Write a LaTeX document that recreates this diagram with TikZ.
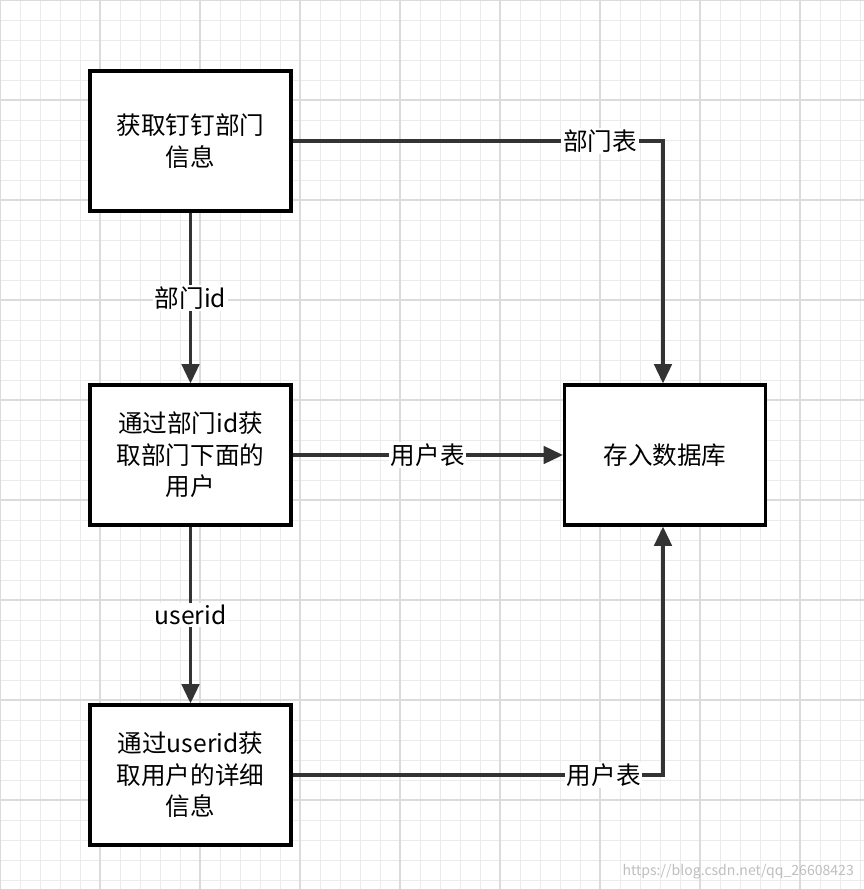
\documentclass[tikz,border=0pt]{standalone}
\usepackage{fontspec}
\setmainfont{Noto Sans CJK SC}
\usetikzlibrary{arrows.meta}
\definecolor{linec}{HTML}{333333}
\begin{document}
\begin{tikzpicture}[x=0.02cm,y=-0.02cm,
  box/.style={draw=black,line width=1.8pt,fill=white,minimum width=201*0.02cm,minimum height=140*0.02cm,align=center,font=\fontsize{14pt}{18pt}\selectfont},
  conn/.style={draw=linec,line width=1.8pt,-{Triangle[length=11pt,width=10pt]}},
  lbl/.style={fill=white,inner sep=1pt,font=\fontsize{14pt}{17pt}\selectfont}]
\fill[white] (0,0) rectangle (864,889);
\useasboundingbox (0,0) rectangle (864,889);
\foreach \x in {0,20,...,860} \draw[black!8,line width=0.5pt] (\x,0) -- (\x,889);
\foreach \y in {0,20,...,880} \draw[black!8,line width=0.5pt] (0,\y) -- (864,\y);
\foreach \x in {0,100,...,800} \draw[black!14,line width=0.6pt] (\x,0) -- (\x,889);
\foreach \y in {0,100,...,800} \draw[black!14,line width=0.6pt] (0,\y) -- (864,\y);
\node[box] (a) at (190.5,141) {获取钉钉部门\\信息};
\node[box] (b) at (190.5,455) {通过部门id获\\取部门下面的\\用户};
\node[box] (c) at (190.5,775) {通过userid获\\取用户的详细\\信息};
\node[box] (d) at (665,455) {存入数据库};
\coordinate (k1) at (663,141);
\coordinate (k2) at (663,775);
\draw[conn] (a) -- node[lbl,pos=0.5] {部门id} (b);
\draw[conn] (b) -- node[lbl,pos=0.5] {userid} (c);
\draw[conn] (a.east) -- node[lbl,pos=0.83] {部门表} (k1) -- (d.north -| k1);
\draw[conn] (b) -- node[lbl,pos=0.5] {用户表} (d);
\draw[conn] (c.east) -- node[lbl,pos=0.84] {用户表} (k2) -- (d.south -| k2);
\node[text=black!25,font=\fontsize{8pt}{9pt}\selectfont,anchor=east] (w) at (860,872) {https://blog.csdn.net/qq\_26608423};
\end{tikzpicture}
\end{document}
